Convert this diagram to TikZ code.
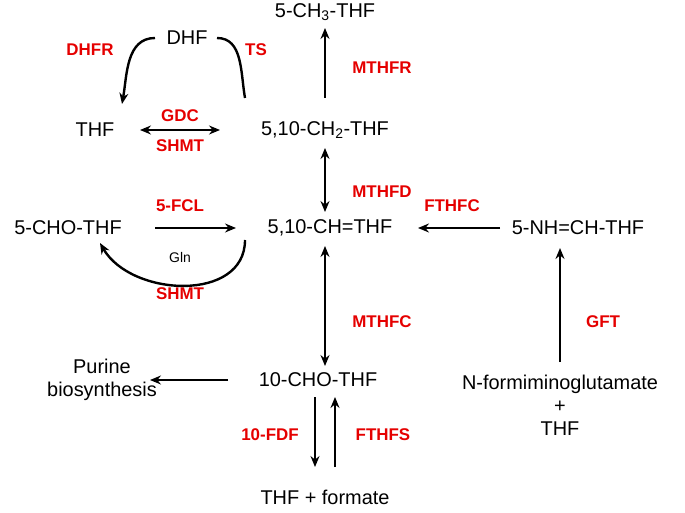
\documentclass[tikz,border=0pt]{standalone}
\usepackage{fontspec}
\setmainfont{Liberation Sans}
\usetikzlibrary{arrows.meta}
\begin{document}
\begin{tikzpicture}[x=1bp,y=-1bp,
  met/.style={font=\fontsize{20}{23}\selectfont, inner sep=1pt},
  enz/.style={font=\fontsize{17}{20}\selectfont\bfseries, text=red!90!black, inner sep=1pt},
  arr/.style={line width=2.4pt, -{Stealth[length=11pt,width=9pt]}},
  darr/.style={line width=2.4pt, {Stealth[length=11pt,width=9pt]}-{Stealth[length=11pt,width=9pt]}}]
\useasboundingbox (0,0) rectangle (685,513);
\node[met] (dhf) at (187,38) {DHF};
\node[met] (ch3) at (325,12) {5-CH\textsubscript{3}-THF};
\node[met] (thf) at (95,130) {THF};
\node[met] (ch2) at (325,130) {5,10-CH\textsubscript{2}-THF};
\node[met] (cho) at (68,228) {5-CHO-THF};
\node[met] (ch) at (330,228) {5,10-CH=THF};
\node[met] (nh) at (578,228) {5-NH=CH-THF};
\node[met, align=center] (pur) at (102,380) {Purine\\biosynthesis};
\node[met] (fcho) at (318,380) {10-CHO-THF};
\node[met, align=center] (nfg) at (560,405) {N-formiminoglutamate\\+\\THF};
\node[met] (form) at (325,497) {THF + formate};
\node[enz] at (90,50) {DHFR};
\node[enz] at (256,50) {TS};
\node[enz] at (382,68) {MTHFR};
\node[enz] at (180,116) {GDC};
\node[enz] at (180,146) {SHMT};
\node[enz] at (382,192) {MTHFD};
\node[enz] at (180,206) {5-FCL};
\node[enz] at (452,206) {FTHFC};
\node[font=\fontsize{14}{16}\selectfont] at (180,258) {Gln};
\node[enz] at (180,294) {SHMT};
\node[enz] at (382,322) {MTHFC};
\node[enz] at (603,322) {GFT};
\node[enz] at (270,435) {10-FDF};
\node[enz] at (383,435) {FTHFS};
\coordinate (dl) at (155,38); \coordinate (dr) at (217,38);
\coordinate (tl) at (122,104);
\draw[arr] (dl) to[out=180,in=80] (tl);
\draw[line width=2.4pt] (245,98) to[out=100,in=0] (dr);
\draw[darr] (140,130) -- (220,130);
\coordinate (a1) at (325,98); \coordinate (a2) at (325,28);
\draw[arr] (a1) -- (a2);
\coordinate (b1) at (325,148); \coordinate (b2) at (325,212);
\draw[darr] (b1) -- (b2);
\coordinate (c1) at (155,228); \coordinate (c2) at (236,228);
\draw[arr] (c1) -- (c2);
\coordinate (e1) at (245,240); \coordinate (e2) at (100,243);
\draw[arr] (e1) to[out=-90,in=-60,looseness=1.1] (e2);
\coordinate (f1) at (500,228); \coordinate (f2) at (418,228);
\draw[arr] (f1) -- (f2);
\coordinate (g1) at (325,246); \coordinate (g2) at (325,366);
\draw[darr] (g1) -- (g2);
\coordinate (h1) at (560,362); \coordinate (h2) at (560,248);
\draw[arr] (h1) -- (h2);
\coordinate (i1) at (228,380); \coordinate (i2) at (150,380);
\draw[arr] (i1) -- (i2);
\draw[arr] (315,397) -- (315,467);
\draw[arr] (335,467) -- (335,397);
\end{tikzpicture}
\end{document}
